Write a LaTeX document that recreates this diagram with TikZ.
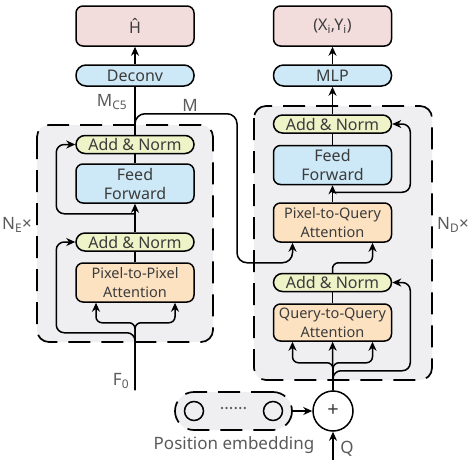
\documentclass[tikz,border=0pt]{standalone}
\usepackage{fontspec}
\setmainfont{Noto Sans}
\usetikzlibrary{arrows.meta}

\definecolor{outpink}{HTML}{F3DCDC}
\definecolor{convblue}{HTML}{CDE8F6}
\definecolor{normyellow}{HTML}{EEF3C8}
\definecolor{attorange}{HTML}{FDE2C2}
\definecolor{panelgray}{HTML}{EFEFF1}
\definecolor{txtgray}{HTML}{3C3C3C}
\definecolor{lblgray}{HTML}{5A5A5A}

\tikzset{
  blk/.style={draw, line width=1.5pt, rounded corners=7pt, minimum width=118pt, inner sep=0pt,
    align=center, text=txtgray, font=\fontsize{16}{19}\selectfont},
  outblk/.style={blk, fill=outpink, minimum height=40pt},
  convblk/.style={blk, fill=convblue, minimum height=21pt, rounded corners=10pt},
  normblk/.style={blk, fill=normyellow, minimum height=18pt, rounded corners=9pt},
  ffblk/.style={blk, fill=convblue, minimum height=39pt},
  attblk/.style={blk, fill=attorange, minimum height=39pt, font=\fontsize{14.5}{19}\selectfont},
  panel/.style={draw, fill=panelgray, line width=1.7pt, dash pattern=on 22pt off 11pt, rounded corners=12pt},
  lbl/.style={text=lblgray, font=\fontsize{17}{20}\selectfont, inner sep=0pt},
  ln/.style={line width=1.5pt},
  arr/.style={ln, -{Stealth[length=9pt,width=8pt]}},
}

\begin{document}
\begin{tikzpicture}[x=1pt, y=-1pt]
    \useasboundingbox (0,0) rectangle (474,469);

    % panels
    \draw[panel] (37,125) rectangle (213,342);
    \draw[panel] (254,106) rectangle (432,380);

    % encoder
    \node[outblk] (hh) at (135,26) {Ĥ};
    \node[convblk] (deconv) at (135,75.5) {Deconv};
    \node[normblk] (encan2) at (135,144.5) {Add \& Norm};
    \node[ffblk] (encff) at (135,183.5) {Feed\\Forward};
    \node[normblk] (encan1) at (135,242) {Add \& Norm};
    \node[attblk] (encatt) at (135,282.5) {Pixel-to-Pixel\\Attention};
    \coordinate (f0) at (135,390);

    % decoder
    \node[outblk] (xy) at (332.5,26) {(X\textsubscript{i},Y\textsubscript{i})};
    \node[convblk] (mlp) at (332.5,75.5) {MLP};
    \node[normblk] (decan2) at (332.5,124) {Add \& Norm};
    \node[ffblk] (decff) at (332.5,165) {Feed\\Forward};
    \node[attblk] (decpq) at (332.5,222.5) {Pixel-to-Query\\Attention};
    \node[normblk] (decan1) at (332.5,282.5) {Add \& Norm};
    \node[attblk, minimum height=37pt] (decqq) at (332.5,322.5) {Query-to-Query\\Attention};

    % position embedding and query
    \node[draw, fill=panelgray, line width=1.7pt, dash pattern=on 22pt off 11pt, rounded corners=19pt,
      minimum width=117pt, minimum height=38pt] (pe) at (233.5,411) {};
    \node[circle, draw, ln, minimum size=19pt, inner sep=0pt] (pe1) at (194,411) {};
    \node[circle, draw, ln, minimum size=19pt, inner sep=0pt] (pe2) at (273,411) {};
    \node[lbl] (pedots) at (233.5,411) {······};
    \node[circle, draw, ln, minimum size=40pt, inner sep=0pt, text=txtgray,
      font=\fontsize{20}{20}\selectfont] (plus) at (333,411) {+};
    \coordinate (q) at (333,460);

    % labels
    \node[lbl] (mc5) at (112,102) {M\textsubscript{C5}};
    \node[lbl] (mlbl) at (190,105) {M};
    \node[lbl] (f0lbl) at (121,381) {F\textsubscript{0}};
    \node[lbl] (nelbl) at (17,225) {N\textsubscript{E}×};
    \node[lbl] (ndlbl) at (453,225) {N\textsubscript{D}×};
    \node[lbl] (pelbl) at (234,445) {Position embedding};
    \node[lbl] (qlbl) at (347,449) {Q};

    % encoder connectors
    \draw[arr, rounded corners=6pt] (f0) |- ([xshift=-39pt,yshift=-20pt]encatt.south) -- ([xshift=-39pt]encatt.south);
    \draw[arr, rounded corners=6pt] (f0) |- ([xshift=40pt,yshift=-20pt]encatt.south) -- ([xshift=40pt]encatt.south);
    \draw[arr, rounded corners=8pt] (f0) |- ([xshift=-19pt,yshift=-30pt]encatt.south west) |- (encan1.west);
    \draw[ln] (encatt) -- (encan1);
    \draw[arr] (encan1) -- (encff);
    \draw[arr, rounded corners=8pt] ([yshift=-10pt]encff.south) -| ([xshift=-19pt]encan2.west) -- (encan2.west);
    \draw[ln] (encff) -- (encan2);
    \draw[ln] (encan2) -- (deconv);
    \draw[arr] (deconv) -- (hh);

    % memory to decoder
    \draw[arr, rounded corners=10pt] (encan2.north) |- ([xshift=102pt,yshift=21pt]encan2.north)
      |- ([xshift=-40pt,yshift=-20pt]decpq.south) -- ([xshift=-40pt]decpq.south);

    % decoder connectors
    \draw[arr] (q) -- (plus);
    \draw[arr] (pe) -- (plus);
    \draw[arr] (plus) -- (decqq);
    \draw[arr, rounded corners=6pt] (plus.north) |- ([xshift=-40pt,yshift=-21pt]decqq.south) -- ([xshift=-40pt]decqq.south);
    \draw[arr, rounded corners=6pt] (plus.north) |- ([xshift=40pt,yshift=-21pt]decqq.south) -- ([xshift=40pt]decqq.south);
    \draw[arr, rounded corners=8pt] (plus.north) |- ([xshift=18pt,yshift=-29pt]decqq.south east) |- (decan1.east);
    \draw[ln] (decqq) -- (decan1);
    \draw[arr, rounded corners=6pt] (decan1.north) |- ([xshift=40pt,yshift=-20pt]decpq.south) -- ([xshift=40pt]decpq.south);
    \draw[arr] (decpq) -- (decff);
    \draw[arr, rounded corners=8pt] ([yshift=-7pt]decff.south) -| ([xshift=18pt]decan2.east) -- (decan2.east);
    \draw[ln] (decff) -- (decan2);
    \draw[arr] (decan2) -- (mlp);
    \draw[arr] (mlp) -- (xy);
\end{tikzpicture}
\end{document}
